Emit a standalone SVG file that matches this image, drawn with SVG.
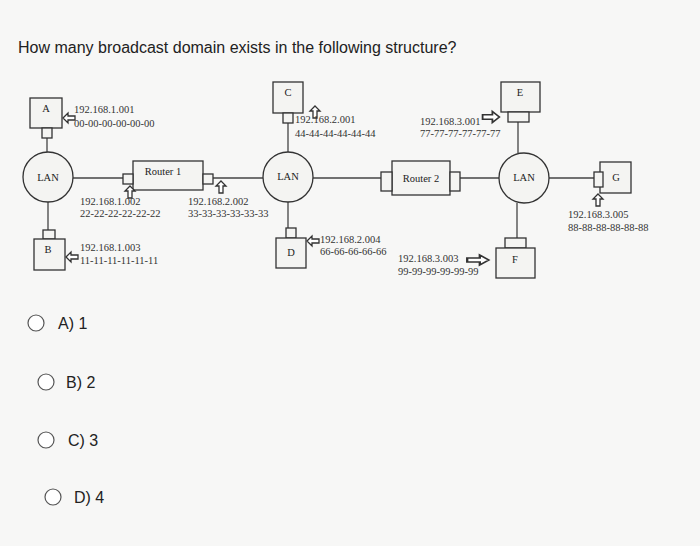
<svg xmlns="http://www.w3.org/2000/svg" width="700" height="546" viewBox="0 0 700 546">
<style>
.b{fill:#f4f4f2;stroke:#333;stroke-width:1.3}
.l{stroke:#444;stroke-width:1.3;fill:none}
.t{font-family:"Liberation Serif",serif;font-size:10.5px;fill:#333}
.n{font-family:"Liberation Serif",serif;font-size:10.5px;fill:#222}
.q{font-family:"Liberation Sans",Arial,sans-serif;font-size:16px;fill:#222}
.r{fill:#fff;stroke:#555;stroke-width:1.2}
</style>
<defs>
<polygon id="ar" points="-6,0 -1,-5 -1,-2 6,-2 6,2 -1,2 -1,5" fill="#fff" stroke="#333" stroke-width="1.3"/>
</defs>
<rect width="700" height="546" fill="#f7f7f6"/>
<text class="q" x="18" y="53">How many broadcast domain exists in the following structure?</text>
<g id="connectors">
<line class="l" x1="47" y1="138" x2="47" y2="152"/>
<line class="l" x1="48" y1="202" x2="48" y2="230"/>
<line class="l" x1="73" y1="178" x2="123" y2="178"/>
<line class="l" x1="213" y1="178" x2="263" y2="178"/>
<line class="l" x1="288" y1="123" x2="288" y2="152"/>
<line class="l" x1="288" y1="202" x2="288" y2="228"/>
<line class="l" x1="313" y1="178" x2="381" y2="178"/>
<line class="l" x1="460" y1="178" x2="499" y2="178"/>
<line class="l" x1="518" y1="122" x2="518" y2="153"/>
<line class="l" x1="517" y1="203" x2="517" y2="238"/>
<line class="l" x1="549" y1="178" x2="594" y2="178"/>
</g>
<g id="A"><rect class="b" x="30" y="98" width="32" height="30"/><rect class="b" x="42" y="128" width="10" height="10"/><text class="n" x="46" y="112" text-anchor="middle">A</text>
<use href="#ar" x="69" y="118"/><text class="t" x="74" y="113">192.168.1.001</text><text class="t" x="74" y="127">00-00-00-00-00-00</text></g>
<g id="LAN1"><circle class="b" cx="48" cy="177" r="25"/><text class="n" x="48" y="181" text-anchor="middle">LAN</text></g>
<g id="B"><rect class="b" x="43" y="230" width="12" height="9"/><rect class="b" x="34" y="239" width="31" height="31"/><text class="n" x="48" y="253" text-anchor="middle">B</text>
<use href="#ar" x="72" y="257"/><text class="t" x="80" y="251">192.168.1.003</text><text class="t" x="80" y="264">11-11-11-11-11-11</text></g>
<g id="Router1"><rect class="b" x="133" y="161" width="70" height="29"/><rect class="b" x="123" y="174" width="10" height="10"/><rect class="b" x="203" y="174" width="10" height="10"/><text class="n" x="163" y="175" text-anchor="middle">Router 1</text>
<use href="#ar" transform="translate(130,192) rotate(90)"/><use href="#ar" transform="translate(221,187) rotate(90)"/>
<text class="t" x="80" y="205">192.168.1.002</text><text class="t" x="80" y="217">22-22-22-22-22-22</text>
<text class="t" x="188" y="205">192.168.2.002</text><text class="t" x="188" y="217">33-33-33-33-33-33</text></g>
<g id="LAN2"><circle class="b" cx="288" cy="177" r="25"/><text class="n" x="288" y="180" text-anchor="middle">LAN</text></g>
<g id="C"><rect class="b" x="273" y="82" width="30" height="31"/><rect class="b" x="283" y="113" width="10" height="10"/><text class="n" x="288" y="96" text-anchor="middle">C</text>
<use href="#ar" transform="translate(315,112) rotate(90)"/><text class="t" x="295" y="123">192.168.2.001</text><text class="t" x="295" y="137">44-44-44-44-44-44</text></g>
<g id="D"><rect class="b" x="286" y="228" width="10" height="10"/><rect class="b" x="276" y="238" width="30" height="30"/><text class="n" x="291" y="256" text-anchor="middle">D</text>
<use href="#ar" x="313" y="241"/><text class="t" x="320" y="243">192.168.2.004</text><text class="t" x="320" y="255">66-66-66-66-66</text></g>
<g id="Router2"><rect class="b" x="392" y="161" width="58" height="34"/><rect class="b" x="381" y="172" width="11" height="19"/><rect class="b" x="450" y="172" width="10" height="19"/><text class="n" x="421" y="182" text-anchor="middle">Router 2</text></g>
<g id="LAN3"><circle class="b" cx="524" cy="178" r="25"/><text class="n" x="524" y="181" text-anchor="middle">LAN</text></g>
<g id="E"><rect class="b" x="501" y="82" width="39" height="30"/><rect class="b" x="508" y="112" width="21" height="10"/><text class="n" x="520" y="96" text-anchor="middle">E</text>
<use href="#ar" transform="translate(491,117) rotate(180) scale(1.4,1.1)"/><text class="t" x="420" y="125">192.168.3.001</text><text class="t" x="420" y="137">77-77-77-77-77-77</text></g>
<g id="F"><rect class="b" x="505" y="238" width="21" height="10"/><rect class="b" x="496" y="248" width="39" height="30"/><text class="n" x="515" y="263" text-anchor="middle">F</text>
<use href="#ar" transform="translate(478,260) rotate(180) scale(1.8,1)"/><text class="t" x="398" y="262">192.168.3.003</text><text class="t" x="398" y="275">99-99-99-99-99-99</text></g>
<g id="G"><rect class="b" x="600" y="162" width="31" height="31"/><rect class="b" x="594" y="172" width="9" height="15"/><text class="n" x="616" y="181" text-anchor="middle" font-size="11">G</text>
<use href="#ar" transform="translate(598,200) rotate(90)"/><text class="t" x="568" y="218">192.168.3.005</text><text class="t" x="568" y="231">88-88-88-88-88-88</text></g>
<g id="options">
<circle class="r" cx="36" cy="323" r="8"/><text class="q" x="58" y="329" font-size="15">A) 1</text>
<circle class="r" cx="46" cy="382" r="8"/><text class="q" x="66" y="388" font-size="15">B) 2</text>
<circle class="r" cx="46" cy="440" r="8"/><text class="q" x="68" y="446" font-size="15">C) 3</text>
<circle class="r" cx="53" cy="497" r="8"/><text class="q" x="74" y="503" font-size="15">D) 4</text>
</g>
</svg>
